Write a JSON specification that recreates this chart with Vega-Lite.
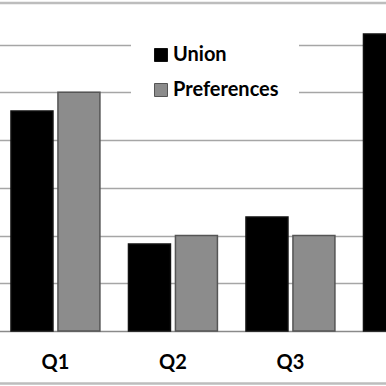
{
  "$schema": "https://vega.github.io/schema/vega-lite/v6.json",
  "width": 386,
  "height": 328,
  "autosize": {"type": "none"},
  "padding": {"left": 0, "top": 3, "right": 0, "bottom": 55},
  "background": "white",
  "config": {
    "view": {"stroke": null},
    "font": "Lato"
  },
  "layer": [
    {
      "data": {"values": [{"edge": 6.87}, {"edge": -1.1}]},
      "mark": {"type": "rule", "color": "#bdbdbd", "strokeWidth": 2.5},
      "encoding": {
        "y": {"field": "edge", "type": "quantitative", "scale": {"domain": [0, 6.87], "nice": false, "zero": false},
          "axis": {"title": null, "values": [1, 2, 3, 4, 5, 6], "labels": false, "ticks": false, "domain": false, "grid": true, "gridColor": "#a6a6a6", "gridWidth": 1.5}}
      }
    },
    {
      "data": {"values": [
        {"quarter": "Q1", "series": "Union", "value": 4.61},
        {"quarter": "Q1", "series": "Preferences", "value": 5.0},
        {"quarter": "Q2", "series": "Union", "value": 1.82},
        {"quarter": "Q2", "series": "Preferences", "value": 2.0},
        {"quarter": "Q3", "series": "Union", "value": 2.39},
        {"quarter": "Q3", "series": "Preferences", "value": 2.0},
        {"quarter": "Q4", "series": "Union", "value": 6.22}
      ]},
      "mark": {"type": "bar", "strokeWidth": 1.5},
      "encoding": {
        "x": {
          "field": "quarter", "type": "nominal", "sort": ["Q1", "Q2", "Q3", "Q4"],
          "scale": {"domain": ["Q1", "Q2", "Q3", "Q4"], "range": [-3.3, 466.7], "paddingInner": 0.243, "paddingOuter": 0.1215},
          "axis": {"title": null, "values": ["Q1", "Q2", "Q3"], "labelAngle": 0, "ticks": false, "tickSize": 0, "labelPadding": 21, "labelFontSize": 20, "labelFontWeight": "bold", "labelColor": "#000", "domainColor": "#8a8a8a", "domainWidth": 1.5, "grid": false}
        },
        "xOffset": {
          "field": "series", "type": "nominal", "sort": ["Union", "Preferences"],
          "scale": {"domain": ["Union", "Preferences"], "paddingInner": 0.106, "paddingOuter": 0}
        },
        "y": {
          "field": "value", "type": "quantitative",
          "scale": {"domain": [0, 6.87], "nice": false, "zero": false},
          "axis": {"title": null, "values": [1, 2, 3, 4, 5, 6], "labels": false, "ticks": false, "domain": false, "grid": true, "gridColor": "#a6a6a6", "gridWidth": 1.5}
        },
        "color": {
          "field": "series", "type": "nominal", "sort": ["Union", "Preferences"],
          "scale": {"domain": ["Union", "Preferences"], "range": ["#000000", "#8c8c8c"]},
          "legend": {
            "title": null, "orient": "none", "legendX": 131, "legendY": 22,
            "padding": 20, "fillColor": "white", "strokeColor": null,
            "symbolType": "square", "symbolSize": 169, "symbolStrokeColor": "#555555", "symbolStrokeWidth": 1,
            "labelFontSize": 20, "labelFontWeight": "bold", "labelColor": "#000", "labelOffset": 2, "rowPadding": 15,
            "labelLimit": 300
          }
        },
        "stroke": {
          "field": "series", "type": "nominal",
          "scale": {"domain": ["Union", "Preferences"], "range": ["#111111", "#555555"]},
          "legend": null
        }
      }
    }
  ]
}
